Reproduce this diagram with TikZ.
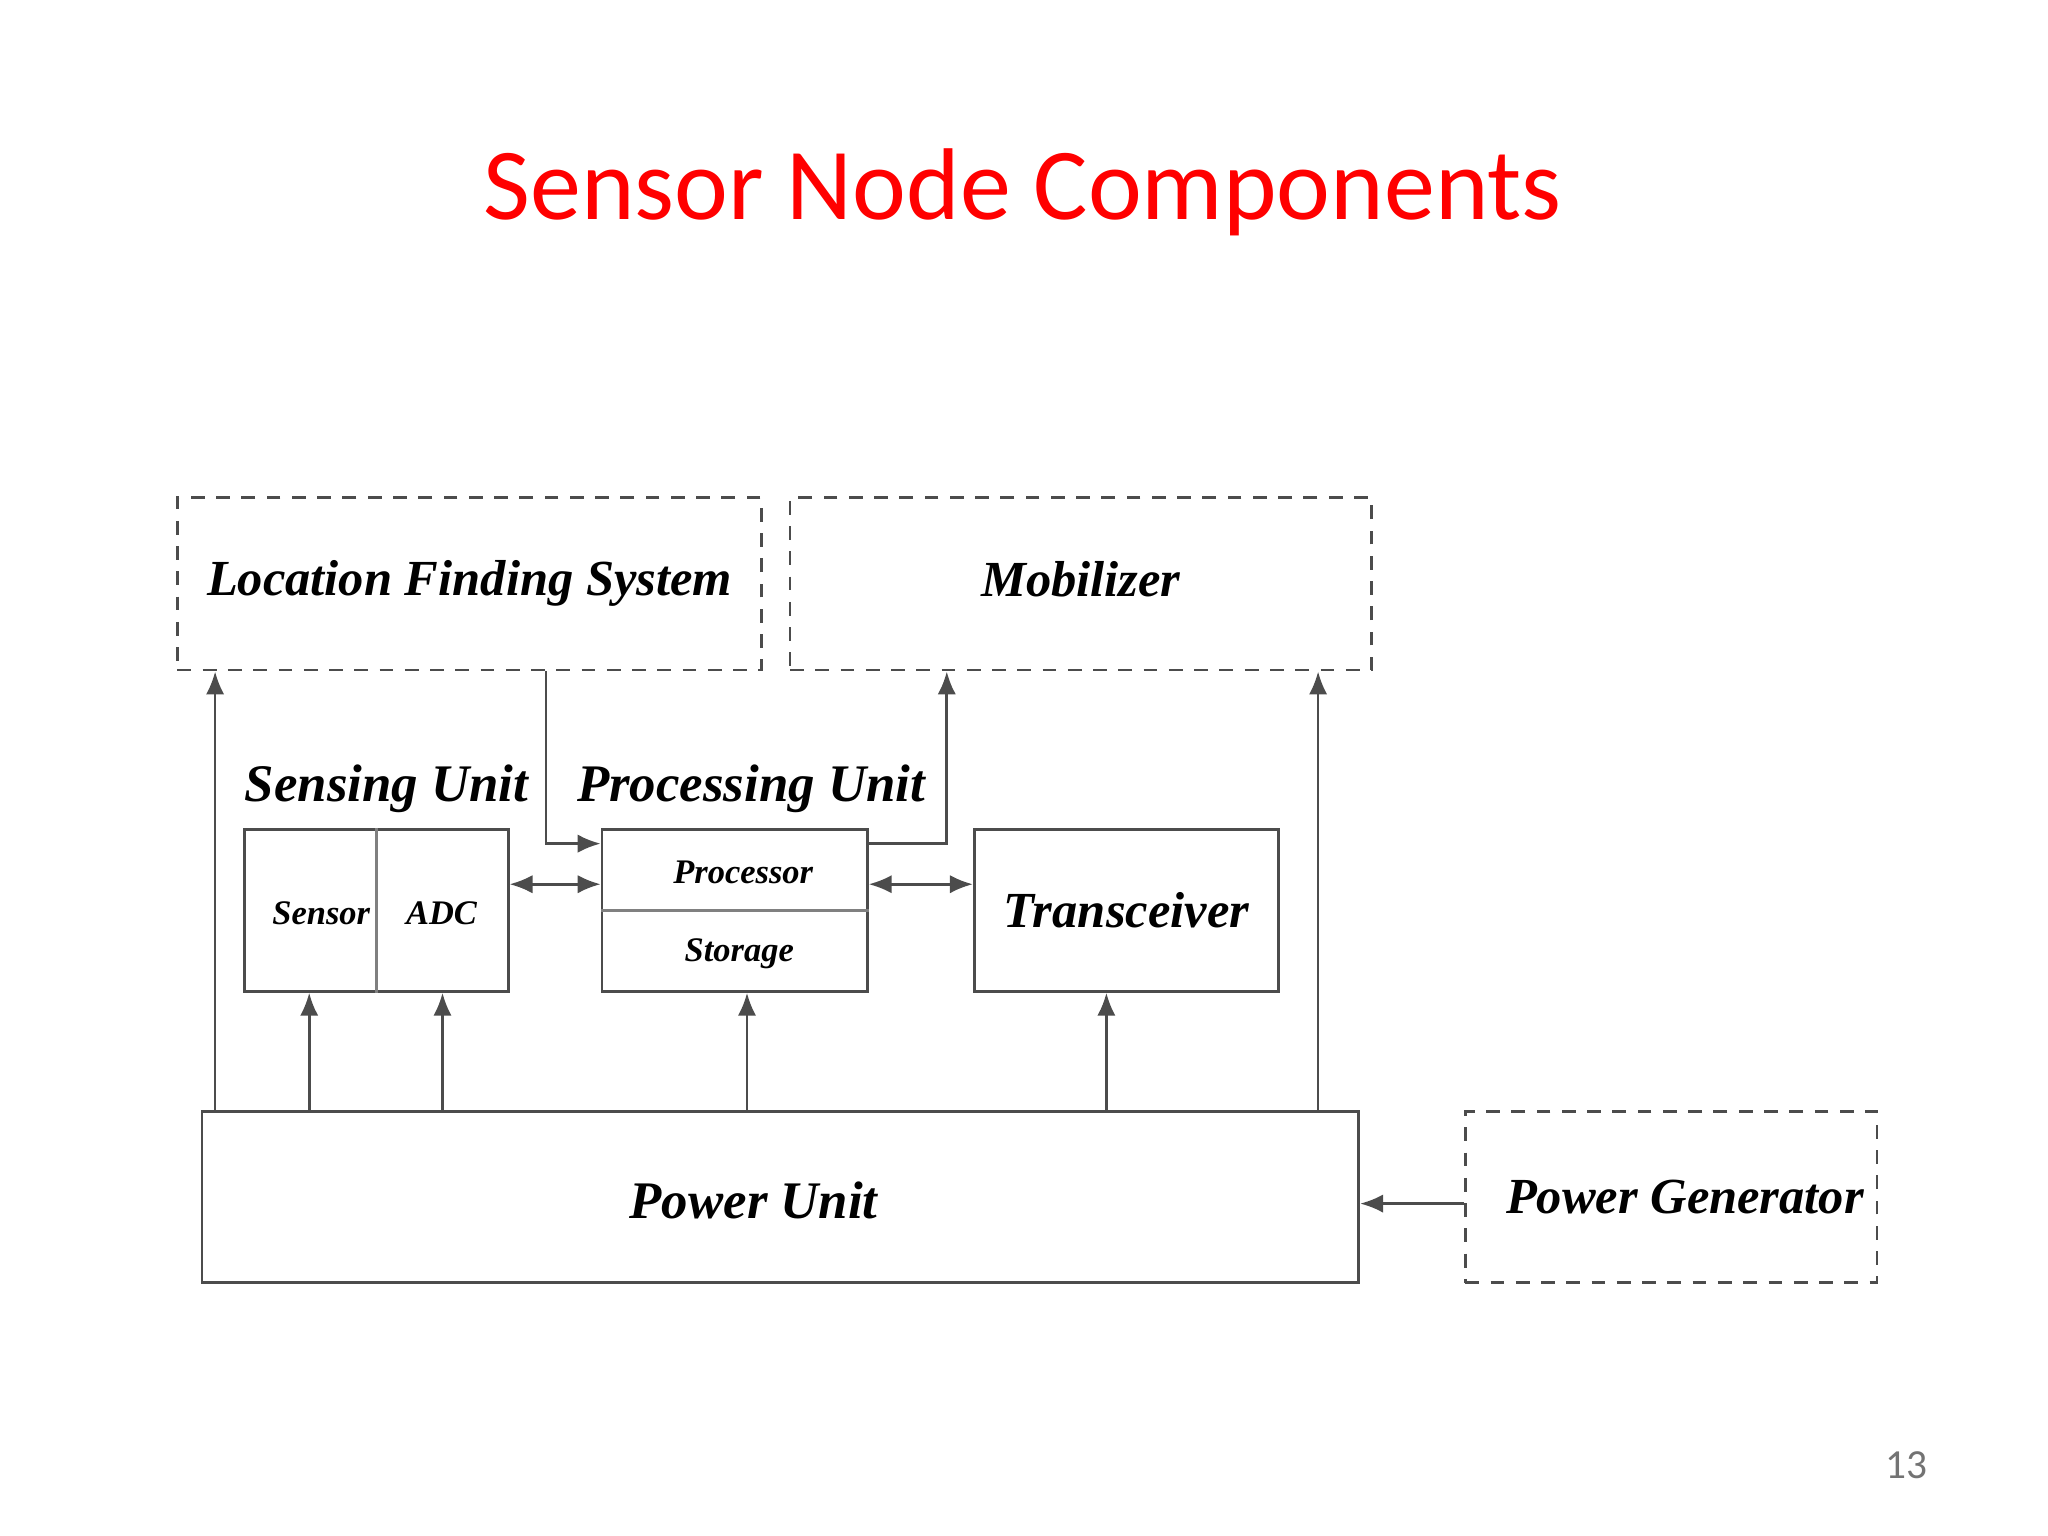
\documentclass[tikz,border=0pt]{standalone}
\usepackage{fontspec}
\setmainfont{Liberation Serif}
\newfontfamily\titlefont{Carlito}
\usetikzlibrary{arrows.meta}
\begin{document}
\begin{tikzpicture}[x=0.01cm,y=-0.01cm,
  box/.style={draw=black!70, line width=0.6pt, inner sep=0pt, font=\fontsize{11}{13}\selectfont\bfseries\itshape},
  dbox/.style={box, dashed, dash pattern=on 3pt off 2.5pt},
  arr/.style={draw=black!70, line width=0.6pt, -{Latex[length=5pt,width=4pt]}},
  darr/.style={arr, {Latex[length=5pt,width=4pt]}-{Latex[length=5pt,width=4pt]}},
  lbl/.style={font=\fontsize{11.5}{14}\selectfont\bfseries\itshape},
  small/.style={font=\fontsize{7.5}{10}\selectfont\bfseries\itshape}]
\useasboundingbox (0,0) rectangle (1568,1176);
\node[text=red, font=\titlefont\fontsize{22.2}{26}\selectfont] (title) at (783,147) {Sensor Node Components};
\node[dbox, minimum width=4.47cm, minimum height=1.32cm] (lfs) at (359.5,447) {\raisebox{2pt}{Location Finding System}};
\node[dbox, minimum width=4.45cm, minimum height=1.32cm] (mob) at (827.5,447) {\raisebox{2pt}{Mobilizer}};
\node[box, minimum width=2.02cm, minimum height=1.24cm] (su) at (288,697) {};
\draw[draw=black!50, line width=0.6pt] (su.north) -- (su.south);
\node[small] (sensor) at (246,699) {Sensor};
\node[small] (adc) at (338,699) {ADC};
\node[box, minimum width=2.03cm, minimum height=1.24cm] (pu) at (562.5,697) {};
\draw[draw=black!50, line width=0.6pt] (pu.west) -- (pu.east);
\node[small] (proc) at (569,668) {Processor};
\node[small] (stor) at (566,730) {Storage};
\node[box, minimum width=2.33cm, minimum height=1.24cm] (tr) at (862.5,697) {Transceiver};
\node[box, minimum width=8.85cm, minimum height=1.31cm] (pw) at (597.5,916.5) {};
\node[lbl] (pwl) at (577,919) {Power Unit};
\node[dbox, minimum width=3.15cm, minimum height=1.31cm] (pg) at (1279.5,916.5) {\hspace{6pt}Power Generator};
\node[lbl] (sul) at (296,604) {Sensing Unit};
\node[lbl] (pul) at (575,604) {Processing Unit};
\node[text=black!55, font=\titlefont\fontsize{9}{10}\selectfont] (num) at (1460,1122) {13};
% power arrows
\draw[arr] ([xshift=0.11cm]pw.north west) -- ([xshift=0.11cm]pw.north west |- lfs.south);
\draw[arr] ([xshift=0.83cm]pw.north west) -- ([xshift=0.83cm]pw.north west |- su.south);
\draw[arr] ([xshift=1.85cm]pw.north west) -- ([xshift=1.85cm]pw.north west |- su.south);
\draw[arr] ([xshift=4.18cm]pw.north west) -- ([xshift=4.18cm]pw.north west |- pu.south);
\draw[arr] ([xshift=6.93cm]pw.north west) -- ([xshift=6.93cm]pw.north west |- tr.south);
\draw[arr] ([xshift=8.55cm]pw.north west) -- ([xshift=8.55cm]pw.north west |- mob.south);
% location -> processor
\draw[arr] ([xshift=2.83cm]lfs.south west) |- ([yshift=-0.12cm]pu.north west);
\draw[arr] ([yshift=-0.12cm]pu.north east) -| ([xshift=1.21cm]mob.south west);
% bidirectional
\draw[darr] ([yshift=0.2cm]su.east) -- ([yshift=0.2cm]pu.west);
\draw[darr] ([yshift=0.2cm]pu.east) -- ([yshift=0.2cm]tr.west);
\draw[arr] ([yshift=-0.05cm]pg.west) -- ([yshift=-0.05cm]pw.east);
\end{tikzpicture}
\end{document}
